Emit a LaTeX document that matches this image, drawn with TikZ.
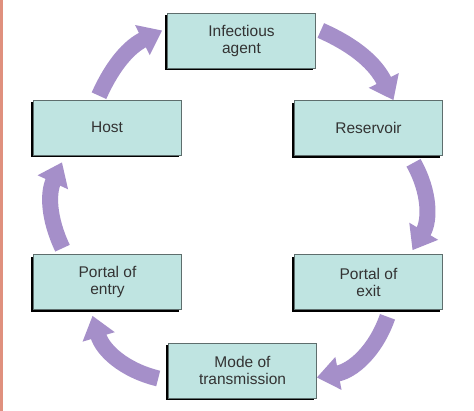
\documentclass[tikz,border=0pt]{standalone}
\usepackage{fontspec}
\setmainfont{Liberation Sans}
\usetikzlibrary{arrows.meta, shadows}
\definecolor{ChainTeal}{HTML}{BFE4E1}
\definecolor{ChainPurple}{HTML}{A58FC9}
\definecolor{ChainText}{HTML}{333333}
\definecolor{ChainEdge}{HTML}{5E6E6D}
\definecolor{ChainSalmon}{HTML}{E0907E}
\tikzset{
    % Box styles - flat fill, black shadow on left and bottom
    stage/.style={
        rectangle,
        draw=ChainEdge,
        fill=ChainTeal,
        line width=0.6pt,
        minimum width=148pt,
        minimum height=55pt,
        align=center,
        text=ChainText,
        font=\fontsize{15.5}{17}\selectfont,
        drop shadow={shadow xshift=-2.5pt, shadow yshift=-2.5pt, fill=black, opacity=1}
    },
    % Arrow style - thick curved arrows
    cyclearrow/.style={
        -{Triangle[width=32pt,length=22pt]},
        line width=16pt,
        draw=ChainPurple
    }
}
\begin{document}
\begin{tikzpicture}[x=1pt, y=-1pt]
    \fill[white] (0,0) rectangle (474,411);
    \useasboundingbox (0,0) rectangle (474,411);
    \fill[ChainSalmon] (0,0) rectangle (3,411);

    \node[stage] (agent) at (241.5,40.5) {Infectious\\agent};
    \node[stage] (reservoir) at (368.5,128) {Reservoir};
    \node[stage] (exit) at (368.5,282) {Portal of\\exit};
    \node[stage] (mode) at (242.5,370.5) {Mode of\\transmission};
    \node[stage] (entry) at (107.5,282) {Portal of\\entry};
    \node[stage] (host) at (107,127.5) {Host};

    \draw[cyclearrow] ([xshift=5pt,yshift=10pt]agent.east) to[bend left=20] ([xshift=25pt]reservoir.north);
    \draw[cyclearrow] ([xshift=45pt,yshift=-7pt]reservoir.south) to[bend left=30] ([xshift=44pt,yshift=4pt]exit.north);
    \draw[cyclearrow] ([xshift=19pt,yshift=-7pt]exit.south) to[bend left=30] ([yshift=-7pt]mode.east);
    \draw[cyclearrow] ([xshift=-10pt,yshift=-8pt]mode.west) to[bend left=30] ([xshift=-15pt,yshift=-6pt]entry.south);
    \draw[cyclearrow] ([xshift=-45pt,yshift=6pt]entry.north) to[bend left=25] ([xshift=-45pt,yshift=-7pt]host.south);
    \draw[cyclearrow] ([xshift=-8pt,yshift=4pt]host.north) to[bend left=20] ([xshift=-5pt,yshift=10pt]agent.west);
\end{tikzpicture}
\end{document}
